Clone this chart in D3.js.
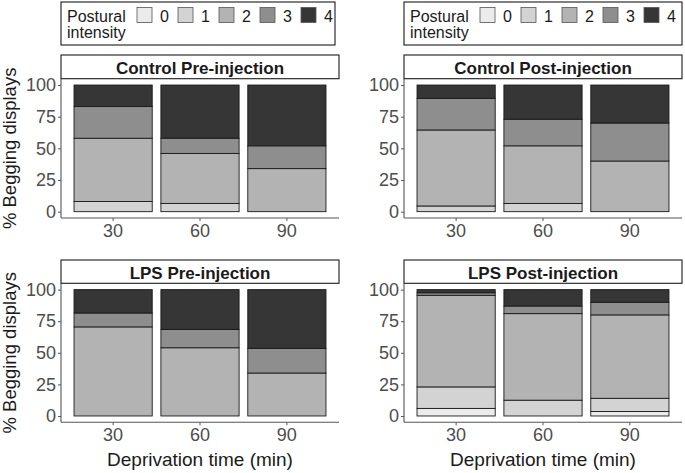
<!DOCTYPE html>
<html><head><meta charset="utf-8">
<script src="https://cdn.jsdelivr.net/npm/d3@7"></script>
<style>body{margin:0;background:#fff}svg{display:block}text{font-family:"Liberation Sans",Arial,sans-serif}</style>
</head><body>
<svg id="c" width="685" height="473"></svg>
<script>
// Data
const times = ["30", "60", "90"];
const levels = ["0", "1", "2", "3", "4"];
const levelColors = ["#ebebeb", "#d3d3d3", "#b3b3b3", "#8e8e8e", "#363636"];
const yTicks = [0, 25, 50, 75, 100];
// rows = deprivation time, columns = % at postural intensity 0..4
const controlPre  = [[0, 8, 50, 25, 17], [0, 6.5, 39.5, 12, 42], [0, 0, 34, 18, 48]];
const controlPost = [[0, 4.5, 60, 25, 10.5], [0, 6.5, 45.5, 21, 27], [0, 0, 40, 30, 30]];
const lpsPre      = [[0, 0, 70.5, 11, 18.5], [0, 0, 54, 14.5, 31.5], [0, 0, 34, 19.5, 46.5]];
const lpsPost     = [[6, 17, 72.5, 2, 2.5], [0, 12.5, 68.5, 6, 13], [3.5, 10.5, 66, 10, 10]];
const panelTitles = ["Control Pre-injection", "Control Post-injection", "LPS Pre-injection", "LPS Post-injection"];

const svg = d3.select("#c");
const FONT = '"Liberation Sans",Arial,sans-serif';

const panels = [
  {data: controlPre, title: panelTitles[0], x0: 61, x1: 339, sTop: 55, pTop: 78.7, pBot: 218, ytitle: true, xtitle: false},
  {data: controlPost, title: panelTitles[1], x0: 404, x1: 682, sTop: 55, pTop: 78.7, pBot: 218, ytitle: false, xtitle: false},
  {data: lpsPre, title: panelTitles[2], x0: 61, x1: 339, sTop: 260, pTop: 283.3, pBot: 422.3, ytitle: true, xtitle: true},
  {data: lpsPost, title: panelTitles[3], x0: 404, x1: 682, sTop: 260, pTop: 283.3, pBot: 422.3, ytitle: false, xtitle: true}
];

panels.forEach(p => {
  const g = svg.append("g");
  const x = d3.scaleBand().domain(times).range([p.x0, p.x1]).paddingInner(0.1).paddingOuter(0.15);
  const y = d3.scaleLinear().domain([-5, 105]).range([p.pBot, p.pTop]);

  // strip
  g.append("rect").attr("x", p.x0).attr("y", p.sTop).attr("width", p.x1 - p.x0).attr("height", p.pTop - p.sTop)
    .attr("fill", "#fff").attr("stroke", "#1a1a1a").attr("stroke-width", 1.1);
  g.append("text").attr("x", (p.x0 + p.x1) / 2).attr("y", p.sTop + 18.5).attr("text-anchor", "middle")
    .attr("font-size", 17).attr("font-weight", "bold").attr("fill", "#1a1a1a").text(p.title);

  // bars
  const stack = d3.stack().keys(levels.map((_, i) => i)).value((d, k) => d[k]);
  const series = stack(p.data);
  series.forEach((s, li) => {
    s.forEach((seg, ti) => {
      if (seg[1] - seg[0] <= 0) return;
      g.append("rect").attr("x", x(times[ti])).attr("width", x.bandwidth())
        .attr("y", y(seg[1])).attr("height", y(seg[0]) - y(seg[1]))
        .attr("fill", levelColors[li]).attr("stroke", "#1a1a1a").attr("stroke-width", 0.9);
    });
  });

  // axes
  const ya = d3.axisLeft(y).tickValues(yTicks).tickSize(3).tickPadding(2).tickSizeOuter(0);
  const yg = g.append("g").attr("transform", `translate(${p.x0},0)`).call(ya);
  yg.select(".domain").remove();
  g.append("line").attr("x1", p.x0).attr("x2", p.x0).attr("y1", p.pTop).attr("y2", p.pBot)
    .attr("stroke", "#555").attr("stroke-width", 1.1);
  yg.selectAll("line").attr("stroke", "#555");
  yg.selectAll("text").attr("font-size", 18).attr("fill", "#4d4d4d").attr("font-family", FONT);

  const xa = d3.axisBottom(x).tickSize(3).tickPadding(3).tickSizeOuter(0);
  const xg = g.append("g").attr("transform", `translate(0,${p.pBot})`).call(xa);
  xg.select(".domain").remove();
  g.append("line").attr("x1", p.x0).attr("x2", p.x1).attr("y1", p.pBot).attr("y2", p.pBot)
    .attr("stroke", "#555").attr("stroke-width", 1.1);
  xg.selectAll("line").attr("stroke", "#555");
  xg.selectAll("text").attr("font-size", 18).attr("fill", "#4d4d4d").attr("font-family", FONT);

  if (p.ytitle) {
    svg.append("text").attr("transform", `translate(16,${(p.pTop + p.pBot) / 2}) rotate(-90)`)
      .attr("text-anchor", "middle").attr("font-size", 18.5).attr("fill", "#1a1a1a").text("% Begging displays");
  }
  if (p.xtitle) {
    svg.append("text").attr("x", (p.x0 + p.x1) / 2).attr("y", 466).attr("text-anchor", "middle")
      .attr("font-size", 19).attr("fill", "#1a1a1a").text("Deprivation time (min)");
  }
});

// legends
[{x: 61, w: 274}, {x: 404, w: 278}].forEach(L => {
  const g = svg.append("g").attr("transform", `translate(${L.x},2)`);
  g.append("rect").attr("x", 0).attr("y", 0).attr("width", L.w).attr("height", 43)
    .attr("fill", "#fff").attr("stroke", "#1a1a1a").attr("stroke-width", 1.1);
  g.append("text").attr("x", 6).attr("y", 19.5).attr("font-size", 16).attr("fill", "#1a1a1a").text("Postural");
  g.append("text").attr("x", 6).attr("y", 36).attr("font-size", 16).attr("fill", "#1a1a1a").text("intensity");
  levels.forEach((lv, i) => {
    const kx = 76 + i * 41;
    g.append("rect").attr("x", kx).attr("y", 5.5).attr("width", 15).attr("height", 15)
      .attr("fill", levelColors[i]).attr("stroke", "#555").attr("stroke-width", 0.8);
    g.append("text").attr("x", kx + 23).attr("y", 19.5).attr("font-size", 16).attr("fill", "#1a1a1a").text(lv);
  });
});
</script>
</body></html>
